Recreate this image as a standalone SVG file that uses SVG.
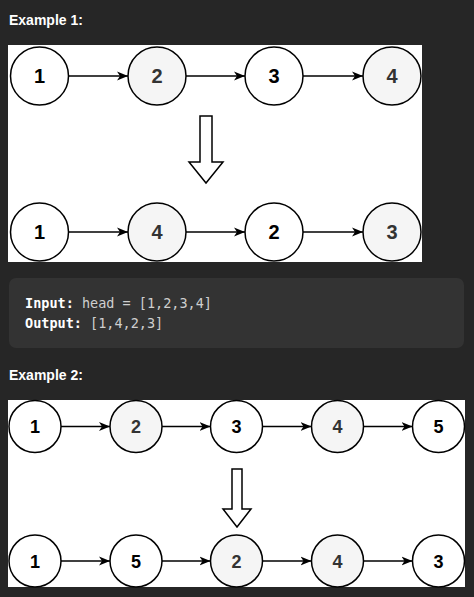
<svg xmlns="http://www.w3.org/2000/svg" width="474" height="597" viewBox="0 0 474 597">
<style>
.h{font-family:"Liberation Sans",Arial,sans-serif;font-weight:bold;font-size:14px;fill:#ffffff}
.n{stroke:#000;stroke-width:1.5;fill:#fff}
.g{fill:#f5f5f5}
.t1{font-family:"Liberation Sans",Arial,sans-serif;font-weight:bold;font-size:20px;text-anchor:middle;fill:#000}
.t2{font-family:"Liberation Sans",Arial,sans-serif;font-weight:bold;font-size:18px;text-anchor:middle;fill:#000}
.tg{fill:#333}
.c{stroke:#000;stroke-width:1.3;fill:none;marker-end:url(#ah)}
.big{fill:#fff;stroke:#000;stroke-width:1.5}
.code{font-family:"DejaVu Sans Mono","Liberation Mono",monospace;font-size:13.5px}
</style>
<defs>
<marker id="ah" markerUnits="userSpaceOnUse" markerWidth="12" markerHeight="10" refX="11" refY="5" orient="auto">
<path d="M0,0.5 L11,5 L0,9.5 L3,5 Z" fill="#000"/>
</marker>
</defs>
<rect x="0" y="0" width="474" height="597" fill="#262626"/>
<text class="h" x="9" y="25">Example 1:</text>
<rect x="8" y="45" width="414" height="217" fill="#fff"/>
<rect x="9" y="278" width="455" height="70" rx="7" fill="#333333"/>
<text class="code" x="25" y="308"><tspan font-weight="bold" fill="#ffffff">Input:</tspan><tspan fill="#cfcfcf"> head = [1,2,3,4]</tspan></text>
<text class="code" x="25" y="328"><tspan font-weight="bold" fill="#ffffff">Output:</tspan><tspan fill="#cfcfcf"> [1,4,2,3]</tspan></text>
<text class="h" x="9" y="380">Example 2:</text>
<rect x="8" y="400" width="457" height="187" fill="#fff"/>
<g id="connectors">
<line class="c" x1="69" y1="76" x2="128" y2="76"/>
<line class="c" x1="186" y1="76" x2="245" y2="76"/>
<line class="c" x1="303" y1="76" x2="363" y2="76"/>
<line class="c" x1="69" y1="232" x2="128" y2="232"/>
<line class="c" x1="186" y1="232" x2="245" y2="232"/>
<line class="c" x1="303" y1="232" x2="363" y2="232"/>
<line class="c" x1="61" y1="426.5" x2="110" y2="426.5"/>
<line class="c" x1="162" y1="426.5" x2="210.5" y2="426.5"/>
<line class="c" x1="262.5" y1="426.5" x2="311.5" y2="426.5"/>
<line class="c" x1="363.5" y1="426.5" x2="412.5" y2="426.5"/>
<line class="c" x1="61" y1="561" x2="110" y2="561"/>
<line class="c" x1="162" y1="561" x2="210.5" y2="561"/>
<line class="c" x1="262.5" y1="561" x2="311.5" y2="561"/>
<line class="c" x1="363.5" y1="561" x2="412.5" y2="561"/>
</g>
<g id="transform1"><path class="big" d="M200,116 H212 V162 H223 L206,183 L189,162 H200 Z"/></g>
<g id="e1a1"><circle class="n" cx="39.5" cy="76" r="29"/><text class="t1" x="39.5" y="83">1</text></g>
<g id="e1a2"><circle class="n g" cx="157" cy="76" r="29"/><text class="t1 tg" x="157" y="83">2</text></g>
<g id="e1a3"><circle class="n" cx="274" cy="76" r="29"/><text class="t1" x="274" y="83">3</text></g>
<g id="e1a4"><circle class="n g" cx="392" cy="76" r="29"/><text class="t1 tg" x="392" y="83">4</text></g>
<g id="e1b1"><circle class="n" cx="39.5" cy="232" r="29"/><text class="t1" x="39.5" y="239">1</text></g>
<g id="e1b2"><circle class="n g" cx="157" cy="232" r="29"/><text class="t1 tg" x="157" y="239">4</text></g>
<g id="e1b3"><circle class="n" cx="274" cy="232" r="29"/><text class="t1" x="274" y="239">2</text></g>
<g id="e1b4"><circle class="n g" cx="392" cy="232" r="29"/><text class="t1 tg" x="392" y="239">3</text></g>
<g id="transform2"><path class="big" d="M232,469 H242 V509 H251 L237,527 L223,509 H232 Z"/></g>
<g id="e2a1"><circle class="n" cx="35" cy="426.5" r="26"/><text class="t2" x="35" y="433">1</text></g>
<g id="e2a2"><circle class="n g" cx="136" cy="426.5" r="26"/><text class="t2 tg" x="136" y="433">2</text></g>
<g id="e2a3"><circle class="n" cx="236.5" cy="426.5" r="26"/><text class="t2" x="236.5" y="433">3</text></g>
<g id="e2a4"><circle class="n g" cx="337.5" cy="426.5" r="26"/><text class="t2 tg" x="337.5" y="433">4</text></g>
<g id="e2a5"><circle class="n" cx="438.5" cy="426.5" r="26"/><text class="t2" x="438.5" y="433">5</text></g>
<g id="e2b1"><circle class="n" cx="35" cy="561" r="26"/><text class="t2" x="35" y="567.5">1</text></g>
<g id="e2b2"><circle class="n" cx="136" cy="561" r="26"/><text class="t2" x="136" y="567.5">5</text></g>
<g id="e2b3"><circle class="n g" cx="236.5" cy="561" r="26"/><text class="t2 tg" x="236.5" y="567.5">2</text></g>
<g id="e2b4"><circle class="n g" cx="337.5" cy="561" r="26"/><text class="t2 tg" x="337.5" y="567.5">4</text></g>
<g id="e2b5"><circle class="n" cx="438.5" cy="561" r="26"/><text class="t2" x="438.5" y="567.5">3</text></g>
</svg>
